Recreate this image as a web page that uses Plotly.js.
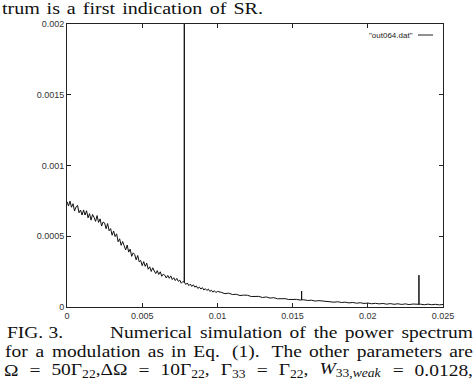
<!DOCTYPE html>
<html>
<head>
<meta charset="utf-8">
<script src="https://cdn.plot.ly/plotly-3.0.1.min.js"></script>
<style>html,body{margin:0;padding:0;background:#fff;}#chart{width:474px;height:380px;}</style>
</head>
<body>
<div id="chart"></div>
<script>
// ---- data ----
const freqLow = [
0,0.0001,0.0002,0.0003,0.0004,0.0005,0.0006,0.0007,0.0008,0.0009,
0.0010,0.0011,0.0012,0.0013,0.0014,0.0015,0.0016,0.0017,0.0018,0.0019,
0.0020,0.0021,0.0022,0.0023,0.0024,0.0025,0.0026,0.0027,0.0028,0.0029,
0.0030,0.0031,0.0032,0.0033,0.0034,0.0035,0.0036,0.0037,0.0038,0.0039,
0.0040,0.0041,0.0042,0.0043,0.0044,0.0045,0.0046,0.0047,0.0048,0.0049,
0.0050,0.0051,0.0052,0.0053,0.0054,0.0055,0.0056,0.0057,0.0058,0.0059,
0.0060,0.0061,0.0062,0.0063,0.0064,0.0065,0.0066,0.0067,0.0068,0.0069,
0.0070,0.0071,0.0072,0.0073,0.0074,0.0075,0.0076,0.0077,0.0078,0.0078,0.0078,0.0079,
0.0080,0.0081,0.0082,0.0083,0.0084,0.0085,0.0086,0.0087,0.0088,0.0089,
0.0090,0.0091,0.0092,0.0093,0.0094,0.0095,0.0096,0.0097,0.0098,0.0099,0.0100];
const powerLow = [
7.45e-4,7.14e-4,7.48e-4,7.05e-4,7.30e-4,6.78e-4,7.08e-4,7.18e-4,6.66e-4,6.85e-4,
6.50e-4,6.86e-4,6.50e-4,6.80e-4,6.30e-4,6.60e-4,6.14e-4,6.54e-4,6.33e-4,6.05e-4,
6.46e-4,5.98e-4,6.23e-4,5.72e-4,6.01e-4,5.94e-4,5.53e-4,5.90e-4,5.39e-4,5.54e-4,
5.07e-4,5.37e-4,4.97e-4,5.17e-4,4.61e-4,4.82e-4,4.36e-4,4.63e-4,4.33e-4,4.03e-4,
4.38e-4,3.88e-4,4.09e-4,3.58e-4,3.83e-4,3.71e-4,3.33e-4,3.64e-4,3.19e-4,3.29e-4,
2.92e-4,3.21e-4,2.87e-4,3.10e-4,2.67e-4,2.84e-4,2.51e-4,2.77e-4,2.55e-4,2.36e-4,
2.57e-4,2.30e-4,2.49e-4,2.17e-4,2.32e-4,2.25e-4,2.05e-4,2.23e-4,2.03e-4,2.20e-4,
1.94e-4,2.07e-4,1.87e-4,2.02e-4,1.81e-4,1.90e-4,1.68e-4,1.79e-4,1.76e-4,3.0e-3,1.76e-4,1.59e-4,
1.70e-4,1.51e-4,1.62e-4,1.45e-4,1.57e-4,1.40e-4,1.49e-4,1.31e-4,1.41e-4,1.27e-4,
1.37e-4,1.20e-4,1.30e-4,1.17e-4,1.26e-4,1.10e-4,1.19e-4,1.05e-4,1.15e-4,1.02e-4,1.10e-4];
const freqHigh = [
0.01025,0.0105,0.01075,0.011,0.01125,0.0115,0.01175,0.012,0.01225,0.0125,
0.01275,0.013,0.01325,0.0135,0.01375,0.014,0.01425,0.0145,0.01475,0.015,
0.01525,0.0155,0.0156,0.0156,0.0156,0.01575,0.016,0.01625,0.0165,0.01675,0.017,
0.01725,0.0175,0.01775,0.018,0.01825,0.0185,0.01875,0.019,0.01925,0.0195,
0.01975,0.02,0.02025,0.0205,0.02075,0.021,0.02125,0.0215,0.02175,0.022,
0.02225,0.0225,0.02275,0.023,0.02325,0.0234,0.0234,0.0234,0.0235,0.02375,
0.024,0.02425,0.0245,0.02475,0.025];
const powerHigh = [
1.04e-4,9.4e-5,9.8e-5,8.8e-5,9.0e-5,8.1e-5,8.4e-5,8.3e-5,7.4e-5,7.7e-5,
7.5e-5,6.7e-5,7.1e-5,6.3e-5,6.6e-5,5.8e-5,6.1e-5,5.9e-5,5.3e-5,5.6e-5,
5.4e-5,4.9e-5,5.0e-5,1.13e-4,5.0e-5,5.1e-5,4.6e-5,4.8e-5,4.2e-5,4.5e-5,4.3e-5,
3.7e-5,4.0e-5,3.4e-5,3.7e-5,3.2e-5,3.4e-5,2.9e-5,3.2e-5,2.7e-5,3.0e-5,
2.5e-5,2.8e-5,2.3e-5,2.6e-5,2.2e-5,2.5e-5,2.0e-5,2.4e-5,1.9e-5,2.3e-5,
1.8e-5,2.2e-5,1.7e-5,2.1e-5,1.7e-5,1.9e-5,2.25e-4,1.9e-5,2.0e-5,1.6e-5,
2.0e-5,1.6e-5,1.9e-5,1.5e-5,1.8e-5];
const xTickVals = [0,0.005,0.01,0.015,0.02,0.025];
const xTickText = ['0','0.005','0.01','0.015','0.02','0.025'];
const yTickVals = [0,0.0005,0.001,0.0015,0.002];
const yTickText = ['0','0.0005','0.001','0.0015','0.002'];
const seriesName = '"out064.dat"';

// ---- surrounding paper text: [words, left px, right px, baseline px, size, wide gaps after] ----
const pageLines = [
  [['trum','is','a','first','indication','of','SR.'], 2, 263, 15, 17, []],
  [['FIG.','3.'], 7, 63, 339, 16.5, []],
  [['Numerical','simulation','of','the','power','spectrum'], 110, 473, 339, 16.5, []],
  [['for','a','modulation','as','in','Eq.','(1).','The','other','parameters','are'], 5, 473, 358, 16.5, ['Eq.','(1).']],
  [['Ω','=','50Γ<sub>22</sub>,ΔΩ','=','10Γ<sub>22</sub>,','Γ<sub>33</sub>','=','Γ<sub>22</sub>,','<i>W</i><sub>33,<i>weak</i></sub>','=','0.0128,'], 4, 473, 377, 16.5, []]
];
const glyphStretch = 1.18;

// ---- layout helpers (pixel -> paper) ----
const L = 67, T = 24, PW = 376, PH = 283;
function px(x){ return (x - L) / PW; }
function py(y){ return (T + PH - y) / PH; }

const serif = 'Liberation Serif, Times New Roman, serif';
const annotations = [];
const lineIndex = [];   // for each annotation: [line number, word number] or null
pageLines.forEach((p, li) => {
  p[0].forEach((w, wi) => {
    annotations.push({text: w, xref:'paper', yref:'paper', x: px(p[1]), y: py(p[3] + p[4]*0.3),
      xanchor:'left', yanchor:'bottom', showarrow:false,
      font:{family: serif, size: p[4], color:'#111'}});
    lineIndex.push([li, wi]);
  });
});
annotations.push({text: seriesName, xref:'paper', yref:'paper', x: px(415), y: py(35),
  xanchor:'right', yanchor:'middle', showarrow:false,
  font:{family:'Liberation Sans, Arial, sans-serif', size:8, color:'#222'}});
lineIndex.push(null);

const axisCommon = {
  showline:true, linecolor:'#222', linewidth:1, mirror:'ticks',
  ticks:'inside', ticklen:4, tickcolor:'#222', tickwidth:1,
  showgrid:false, zeroline:false,
  tickfont:{family:'Liberation Sans, Arial, sans-serif', size:9, color:'#333'}
};

const trace = {
  x: freqLow.concat(freqHigh), y: powerLow.concat(powerHigh),
  type:'scatter', mode:'lines', name: seriesName,
  line:{color:'#111', width:1}
};

const layout = {
  width:474, height:380,
  margin:{l:67, r:31, t:24, b:73, pad:0},
  paper_bgcolor:'#fff', plot_bgcolor:'#fff',
  showlegend:false,
  xaxis: Object.assign({}, axisCommon, {range:[0,0.025], tickmode:'array', tickvals:xTickVals, ticktext:xTickText}),
  yaxis: Object.assign({}, axisCommon, {range:[0,0.002], tickmode:'array', tickvals:yTickVals, ticktext:yTickText}),
  annotations: annotations,
  shapes:[{type:'line', xref:'paper', yref:'paper', x0:px(418), x1:px(433), y0:py(35), y1:py(35),
           line:{color:'#222', width:1}}]
};

Plotly.newPlot('chart', [trace], layout, {displayModeBar:false, staticPlot:true}).then(gd => {
  // justify each page line word by word, like the scanned, slightly wide typesetting
  const texts = Array.from(gd.querySelectorAll('.annotation-text'));
  const groups = pageLines.map(() => []);
  texts.forEach((t, i) => { const k = lineIndex[i]; if (k) groups[k[0]].push(t); });
  groups.forEach((els, li) => {
    const p = pageLines[li];
    try {
      const W = p[2] - p[1];
      const widths = els.map(t => t.getBBox().width);
      const sum = widths.reduce((a, b) => a + b, 0);
      const gapW = p[0].slice(0, -1).map(w => p[5].indexOf(w) >= 0 ? 1.7 : 1);
      const gsum = gapW.reduce((a, b) => a + b, 0);
      let sx = glyphStretch;
      let unit = gsum > 0 ? (W - sx * sum) / gsum : 0;
      if (unit < 3 && gsum > 0) { unit = 3; sx = (W - unit * gsum) / sum; }
      let cursor = p[1];
      els.forEach((t, wi) => {
        const prev = t.getAttribute('transform') || '';
        const bb = t.getBBox();
        const rect = t.getBoundingClientRect();
        const offX = rect.left - bb.x;
        const tx = cursor - offX - sx * bb.x;
        t.setAttribute('transform', (prev + ' translate(' + tx.toFixed(2) + ',0) scale(' + sx.toFixed(4) + ',1)').trim());
        cursor += sx * widths[wi] + (wi < gapW.length ? unit * gapW[wi] : 0);
      });
    } catch (e) {}
  });
});
</script>
</body>
</html>
